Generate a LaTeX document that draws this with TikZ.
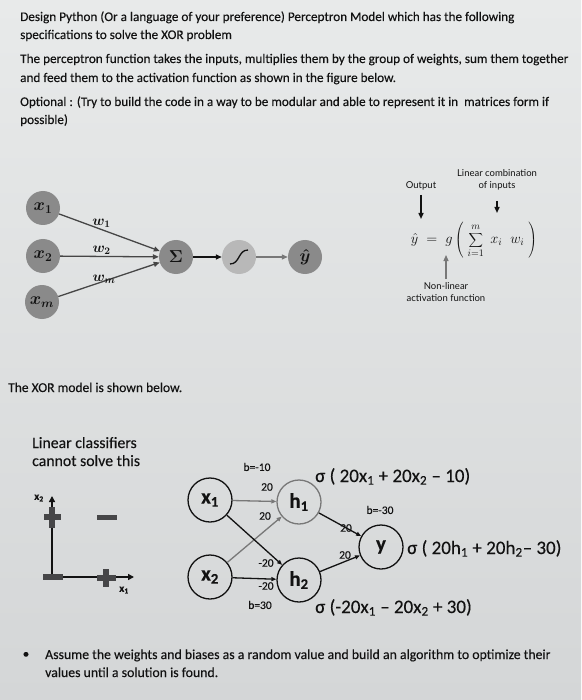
\documentclass[tikz,border=0pt]{standalone}
\usepackage{fontspec}
\setmainfont{Carlito}[FakeBold=0.25]
\newfontfamily\gillfont{Lato}
\usetikzlibrary{arrows.meta}
\definecolor{papertop}{RGB}{232,234,234}
\definecolor{paperbot}{RGB}{212,214,215}
\definecolor{ink}{RGB}{18,18,18}
\definecolor{nodegray}{RGB}{138,138,138}
\definecolor{lightnode}{RGB}{184,184,184}
\definecolor{arrgray}{RGB}{70,70,70}
\definecolor{softgray}{RGB}{120,120,120}
\definecolor{blotgray}{RGB}{70,70,72}
\begin{document}
\begin{tikzpicture}[x=1pt,y=-1pt,
  txt/.style={anchor=base west,inner sep=0pt,text=ink,font=\fontsize{13.2}{15}\selectfont},
  inp/.style={circle,fill=nodegray,minimum size=34pt,inner sep=0pt,text=ink,font=\fontsize{17.28}{19}\selectfont\boldmath},
  warr/.style={draw=arrgray,line width=1.3pt,-{Triangle[length=6pt,width=5pt]}},
  glabel/.style={inner sep=1pt,font=\fontsize{14.4}{16}\selectfont\boldmath,text=ink},
  small/.style={inner sep=0pt,text=ink,font=\gillfont\fontsize{9.5}{11.5}\selectfont,align=center},
  xo/.style={circle,draw=ink,line width=1.3pt,minimum size=44pt,inner sep=0pt,text=ink,font=\bfseries\fontsize{21}{23}\selectfont},
  narr/.style={draw=ink,line width=1.3pt,-{Triangle[length=5pt,width=4pt]}},
  garr/.style={draw=softgray,line width=1.3pt,-{Triangle[length=5pt,width=4pt]}},
  wlab/.style={inner sep=0pt,text=ink,font=\fontsize{11.5}{13}\selectfont},
  sig/.style={anchor=base west,inner sep=0pt,text=ink,font=\fontsize{19}{22}\selectfont},
  blot/.style={draw=blotgray,line width=6pt},
  axarr/.style={draw=ink,line width=1.8pt,-{Triangle[length=6pt,width=6pt]}}
]
\shade[top color=papertop,bottom color=paperbot] (0,0) rectangle (581,700);
\useasboundingbox (0,0) rectangle (581,700);

% ---- top text
\node[txt] (t1) at (20,21) {Design Python (Or a language of your preference) Perceptron Model which has the following};
\node[txt] (t2) at (20,39) {specifications to solve the XOR problem};
\node[txt] (t3) at (20,63) {The perceptron function takes the inputs, multiplies them by the group of weights, sum them together};
\node[txt] (t4) at (20,82) {and feed them to the activation function as shown in the figure below.};
\node[txt] (t5) at (20,106) {Optional : (Try to build the code in a way to be modular and able to represent it in\ \ matrices form if};
\node[txt] (t6) at (20,124) {possible)};

% ---- perceptron
\node[inp] (x1) at (43,208) {$x_1$};
\node[inp] (x2) at (43,256) {$x_2$};
\node[inp] (xm) at (42,302) {$x_m$};
\node[inp] (sum) at (176,257) {$\Sigma$};
\node[inp,fill=lightnode] (act) at (239,257) {};
\node[inp] (yh) at (305,257) {$\hat{y}$};
\draw[line width=1.3pt,ink] ([shift={(-9,7)}]act.center) .. controls ([shift={(1,7)}]act.center) and ([shift={(-1,-7)}]act.center) .. ([shift={(9,-7)}]act.center);
\draw[warr] (x1) -- node[glabel,pos=0.42,above] (lw1) {$w_1$} (sum);
\draw[warr] (x2) -- node[glabel,pos=0.42,above] (lw2) {$w_2$} (sum);
\draw[warr] (xm) -- node[glabel,pos=0.45,above,yshift=-4pt] (lwm) {$w_m$} (sum);
\draw[draw=ink,line width=1.6pt,-{Triangle[length=6pt,width=5pt]}] (sum) -- (act);
\draw[draw=softgray,line width=1.3pt,-{Triangle[length=6pt,width=5pt]}] (act) -- (yh);

% ---- formula
\node[inner sep=0pt,text=ink,font=\fontsize{14.4}{16}\selectfont] (form) at (474,240)
  {$\displaystyle \hat{y}\;=\;g\left(\;\sum_{i=1}^{m}\;x_i\;\;w_i\;\right)$};
\node[small] (lout) at (421,186) {Output};
\node[small] (llin) at (497,180) {Linear combination\\of inputs};
\node[small] (lnon) at (446,292) {Non-linear\\activation function};
\coordinate (aoutA) at (421,195);
\coordinate (aoutB) at (421,219);
\coordinate (alinA) at (497,201);
\coordinate (alinB) at (497,213);
\coordinate (anonA) at (446,279);
\coordinate (anonB) at (446,255);
\draw[draw=ink,line width=1.4pt,-{Triangle[length=6pt,width=5pt]}] (aoutA) -- (aoutB);
\draw[draw=ink,line width=1.4pt,-{Triangle[length=6pt,width=5pt]}] (alinA) -- (alinB);
\draw[draw=softgray,line width=1.2pt,-{Triangle[length=6pt,width=5pt]}] (anonA) -- (anonB);

% ---- XOR text
\node[txt,font=\fontsize{13.5}{16}\selectfont] (t7) at (8,392) {The XOR model is shown below.};
\node[txt,font=\fontsize{15.8}{18}\selectfont] (t8) at (32,448) {Linear classifiers};
\node[txt,font=\fontsize{15.8}{18}\selectfont] (t9) at (32,466) {cannot solve this};

% ---- XOR plot
\coordinate (O) at (52,577);
\coordinate (Ytop) at (52,496);
\coordinate (Xend) at (134,577);
\draw[axarr] (O) -- (Ytop);
\draw[axarr] (O) -- (Xend);
\node[inner sep=0pt,text=ink,font=\bfseries\fontsize{11}{12}\selectfont] (ax2) at (39,498) {x\textsubscript{2}};
\node[inner sep=0pt,text=ink,font=\bfseries\fontsize{11}{12}\selectfont] (ax1) at (124,590) {x\textsubscript{1}};
\draw[blot] (44,517) -- (61,517);
\draw[blot] (52,507) -- (52,528);
\draw[blot,line width=5pt] (97,517) -- (117,517);
\draw[blot] (43,577) -- (63,577);
\draw[blot] (97,578) -- (116,578);
\draw[blot] (106,569) -- (106,587);

% ---- XOR network
\node[xo] (X1) at (210,500) {x\textsubscript{1}};
\node[xo] (X2) at (210,577) {x\textsubscript{2}};
\node[xo,draw=softgray] (H1) at (299,502) {h\textsubscript{1}};
\node[xo] (H2) at (299,580) {h\textsubscript{2}};
\node[xo] (Y) at (381,547) {y};
\draw[garr] (X1) -- (H1);
\draw[garr] (X2) -- (H1);
\draw[narr] (X1) -- (H2);
\draw[narr] (X2) -- (H2);
\draw[narr] (H1) -- (Y);
\draw[narr] (H2) -- (Y);
\node[wlab] (w11) at (267,487) {20};
\node[wlab] (w21) at (265,516) {20};
\node[wlab] (w12) at (266,563) {-20};
\node[wlab] (w22) at (266,586) {-20};
\node[wlab] (v1) at (346,528) {20};
\node[wlab] (v2) at (345,555) {20};
\node[wlab] (b1) at (257,467) {b=-10};
\node[wlab] (b3) at (380,510) {b=-30};
\node[wlab] (b2) at (260,605) {b=30};
\node[sig] (s1) at (315,482) {σ ( 20x\textsubscript{1} + 20x\textsubscript{2} – 10)};
\node[sig] (s3) at (407,554) {σ ( 20h\textsubscript{1} + 20h\textsubscript{2}– 30)};
\node[sig] (s2) at (315,613) {σ (-20x\textsubscript{1} – 20x\textsubscript{2} + 30)};

% ---- bullet
\node[inner sep=0pt,text=ink,font=\fontsize{13}{14}\selectfont] (bul) at (26,655) {\textbullet};
\node[txt,font=\fontsize{13.8}{16}\selectfont] (t10) at (45,659) {Assume the weights and biases as a random value and build an algorithm to optimize their};
\node[txt,font=\fontsize{13.8}{16}\selectfont] (t11) at (45,677) {values until a solution is found.};
\end{tikzpicture}
\end{document}
